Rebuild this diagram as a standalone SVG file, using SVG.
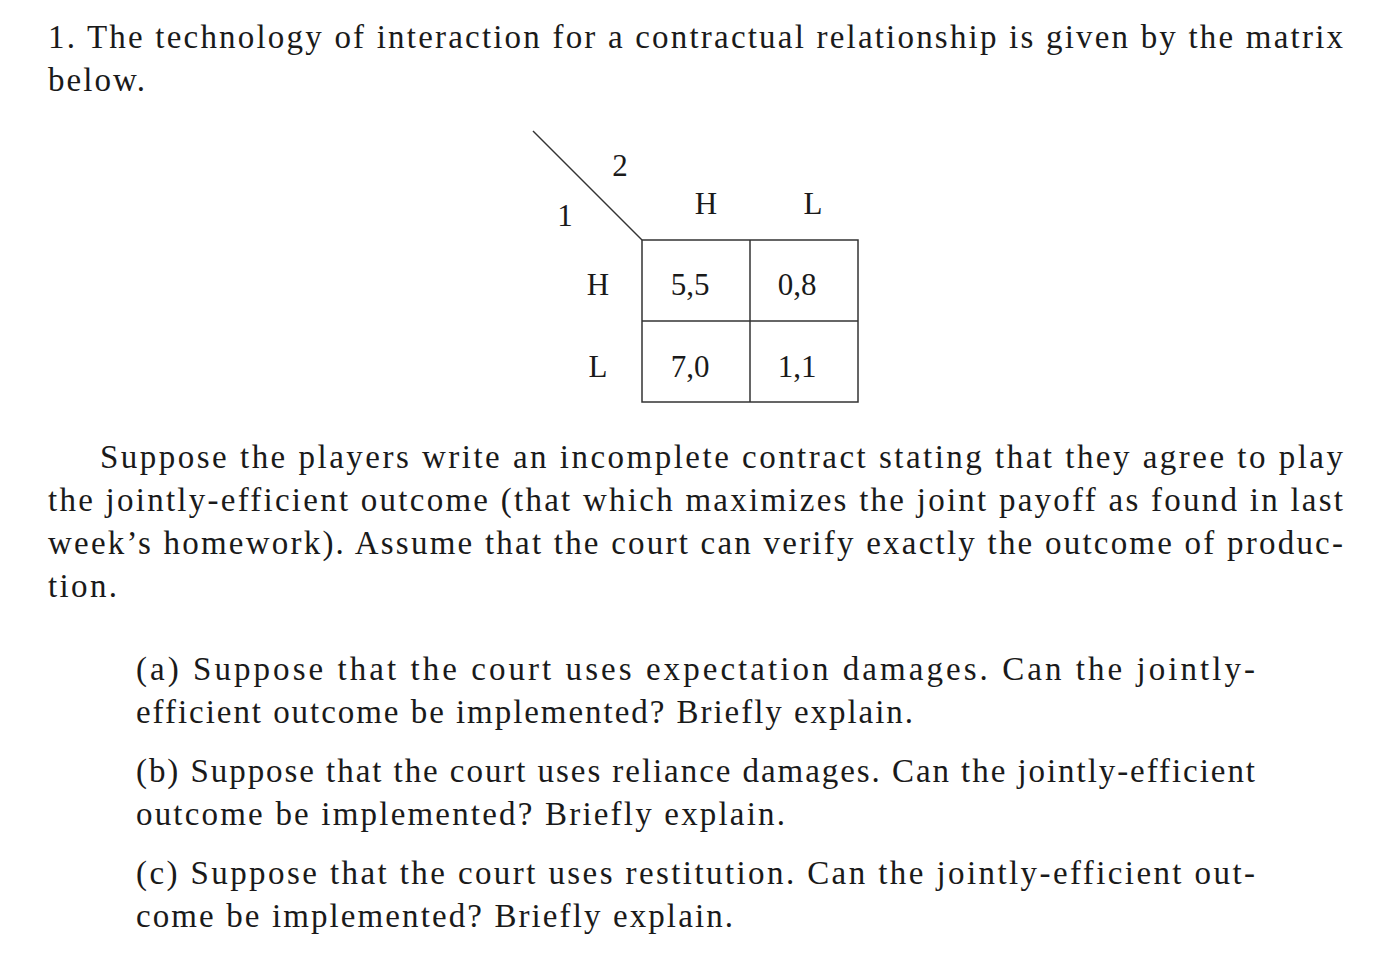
<svg xmlns="http://www.w3.org/2000/svg" width="1386" height="970" viewBox="0 0 1386 970">
<style>
text{font-family:"Liberation Serif","Times New Roman",serif;font-size:33px;fill:#1a1a1a}
.m{font-size:31px;text-anchor:middle}
.g{stroke:#333;stroke-width:1.5;fill:none}
</style>
<rect width="1386" height="970" fill="#fff"/>
<g id="intro">
<text x="48" y="48" textLength="1295" lengthAdjust="spacing">1. The technology of interaction for a contractual relationship is given by the matrix</text>
<text x="48" y="91" textLength="97" lengthAdjust="spacing">below.</text>
</g>
<g id="matrix">
<g class="g">
<line x1="533" y1="131" x2="642" y2="240"/>
<rect x="642" y="240" width="216" height="162"/>
<line x1="750" y1="240" x2="750" y2="402"/>
<line x1="642" y1="321" x2="858" y2="321"/>
</g>
<text class="m" x="620" y="176">2</text>
<text class="m" x="565" y="226">1</text>
<text class="m" x="706" y="214">H</text>
<text class="m" x="813" y="214">L</text>
<text class="m" x="598" y="295">H</text>
<text class="m" x="598" y="377">L</text>
<text class="m" x="690" y="295">5,5</text>
<text class="m" x="797" y="295">0,8</text>
<text class="m" x="690" y="377">7,0</text>
<text class="m" x="797" y="377">1,1</text>
</g>
<g id="para">
<text x="100" y="468" textLength="1243" lengthAdjust="spacing">Suppose the players write an incomplete contract stating that they agree to play</text>
<text x="48" y="511" textLength="1295" lengthAdjust="spacing">the jointly-efficient outcome (that which maximizes the joint payoff as found in last</text>
<text x="48" y="554" textLength="1295" lengthAdjust="spacing">week’s homework). Assume that the court can verify exactly the outcome of produc-</text>
<text x="48" y="597" textLength="69" lengthAdjust="spacing">tion.</text>
</g>
<g id="a">
<text x="136" y="680" textLength="1119" lengthAdjust="spacing">(a) Suppose that the court uses expectation damages. Can the jointly-</text>
<text x="136" y="723" textLength="777" lengthAdjust="spacing">efficient outcome be implemented? Briefly explain.</text>
</g>
<g id="b">
<text x="136" y="782" textLength="1119" lengthAdjust="spacing">(b) Suppose that the court uses reliance damages. Can the jointly-efficient</text>
<text x="136" y="825" textLength="649" lengthAdjust="spacing">outcome be implemented? Briefly explain.</text>
</g>
<g id="c">
<text x="136" y="884" textLength="1119" lengthAdjust="spacing">(c) Suppose that the court uses restitution. Can the jointly-efficient out-</text>
<text x="136" y="927" textLength="597" lengthAdjust="spacing">come be implemented? Briefly explain.</text>
</g>
</svg>
